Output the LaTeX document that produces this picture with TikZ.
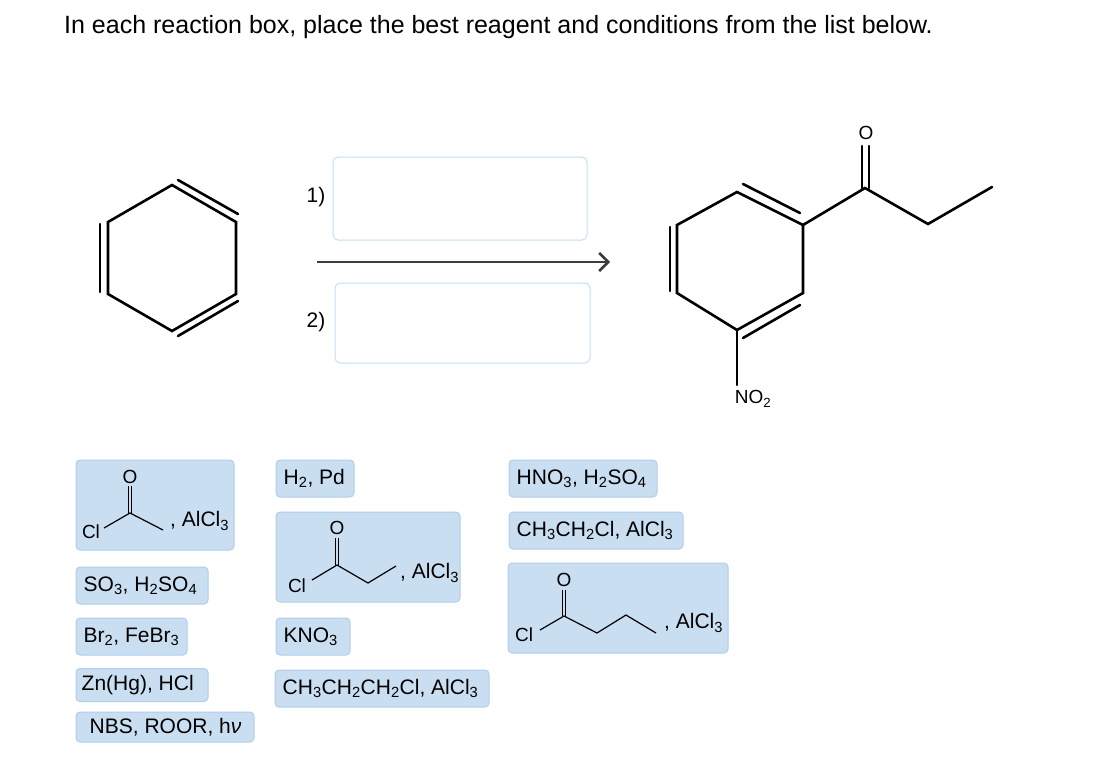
\documentclass[tikz,border=0pt]{standalone}
\usepackage{fontspec}
\setmainfont{Liberation Sans}
\usetikzlibrary{arrows.meta}
\begin{document}
\begin{tikzpicture}[x=1pt,y=-1pt,
  rg/.style={draw={rgb,255:red,176;green,205;blue,235}, fill={rgb,255:red,202;green,222;blue,242}, rounded corners=4pt, line width=1pt, inner sep=0pt},
  ans/.style={draw={rgb,255:red,198;green,222;blue,242}, fill=white, rounded corners=5pt, line width=1pt, inner sep=0pt},
  lab/.style={font=\fontsize{21}{24}\selectfont, inner sep=0pt},
  sm/.style={font=\fontsize{19}{22}\selectfont, inner sep=0pt},
  bt/.style={font=\fontsize{21}{24}\selectfont, inner sep=0pt, anchor=west},
  bb/.style={line width=2.6pt, line cap=round},
  sb/.style={line width=1.2pt}]
\useasboundingbox (0,0) rectangle (1098,766);
\node[anchor=west, font=\fontsize{25}{28}\selectfont, inner sep=0pt] (title) at (64,27) {In each reaction box, place the best reagent and conditions from the list below.};
% left benzene
\coordinate (a1) at (172,185); \coordinate (a2) at (236,222); \coordinate (a3) at (236,294);
\coordinate (a4) at (172,331); \coordinate (a5) at (108,294); \coordinate (a6) at (108,222);
\draw[bb] (a1)--(a2)--(a3)--(a4)--(a5)--(a6)--cycle;
\draw[bb] (100,224)--(100,292);
\draw[bb] (178,180)--(238,214);
\draw[bb] (178,336)--(238,301);
% reaction
\node[ans, minimum width=254, minimum height=83] (box1) at (460,198.5) {};
\node[ans, minimum width=255, minimum height=80] (box2) at (462.5,323) {};
\node[lab] (n1) at (316,197) {1)};
\node[lab] (n2) at (316,322) {2)};
\coordinate (ar1) at (317,262); \coordinate (ar2) at (610,262);
\draw[line width=2.5pt, draw={rgb,255:red,60;green,60;blue,60}, -{Straight Barb[length=9pt,width=18pt]}] (ar1)--(ar2);
% product
\coordinate (b1) at (737,192); \coordinate (b2) at (803,225); \coordinate (b3) at (803,293);
\coordinate (b4) at (737,330); \coordinate (b5) at (677,293); \coordinate (b6) at (677,225);
\draw[bb] (b1)--(b2)--(b3)--(b4)--(b5)--(b6)--cycle;
\draw[bb] (670,227)--(670,291);
\draw[bb] (743,184)--(800,213);
\draw[bb] (743,338)--(800,305);
\coordinate (c1) at (865,188); \coordinate (c2) at (928,224); \coordinate (c3) at (992,187);
\draw[bb] (b2)--(c1)--(c2)--(c3);
\draw[bb] (862,188)--(862,146); \draw[bb] (869,188)--(869,146);
\node[sm] (O) at (866,133) {O};
\node[sm] (no2) at (753,399) {NO\textsubscript{2}};
\draw[bb] (b4)--(737,385);
% reagent boxes
\node[rg, minimum width=158, minimum height=90] (rA) at (155,505) {};
\node[sm] (oA) at (130,477) {O};
\coordinate (mA) at (163,530); \coordinate (clA) at (104,528);
\draw[sb] (128.5,486)--(128.5,513); \draw[sb] (131.5,486)--(131.5,513);
\draw[sb] (clA)--(130,513)--(mA);
\node[sm] (clAt) at (91,532) {Cl};
\node[bt] (alA) at (170,521) {, AlCl\textsubscript{3}};

\node[rg, minimum width=78, minimum height=37] (h2) at (315,478.5) {};
\node[bt] at ([xshift=8pt]h2.west) {H\textsubscript{2}, Pd};
\node[rg, minimum width=148, minimum height=37] (hno3) at (583,478.5) {};
\node[bt] at ([xshift=8pt]hno3.west) {HNO\textsubscript{3}, H\textsubscript{2}SO\textsubscript{4}};

\node[rg, minimum width=184, minimum height=90] (rB) at (368,557) {};
\node[sm] (oB) at (337,528) {O};
\draw[sb] (335.5,538)--(335.5,565); \draw[sb] (338.5,538)--(338.5,565);
\coordinate (clB) at (312,580); \coordinate (cB2) at (368,583); \coordinate (cB3) at (396,566);
\draw[sb] (clB)--(337,565)--(cB2)--(cB3);
\node[sm] (clBt) at (297,586) {Cl};
\node[bt] (alB) at (400,573) {, AlCl\textsubscript{3}};

\node[rg, minimum width=174, minimum height=37] (etcl) at (596,530.5) {};
\node[bt] at ([xshift=8pt]etcl.west) {CH\textsubscript{3}CH\textsubscript{2}Cl, AlCl\textsubscript{3}};
\node[rg, minimum width=132, minimum height=37] (so3) at (142,585.5) {};
\node[bt] at ([xshift=8pt]so3.west) {SO\textsubscript{3}, H\textsubscript{2}SO\textsubscript{4}};

\node[rg, minimum width=220, minimum height=90] (rC) at (618,608) {};
\node[sm] (oC) at (564,580) {O};
\draw[sb] (562.5,590)--(562.5,616); \draw[sb] (565.5,590)--(565.5,616);
\coordinate (clC) at (540,630); \coordinate (cC2) at (597,633); \coordinate (cC3) at (626,615); \coordinate (cC4) at (656,633);
\draw[sb] (clC)--(564,616)--(cC2)--(cC3)--(cC4);
\node[sm] (clCt) at (524,635) {Cl};
\node[bt] (alC) at (664,623) {, AlCl\textsubscript{3}};

\node[rg, minimum width=111, minimum height=37] (br2) at (131.5,636.5) {};
\node[bt] at ([xshift=8pt]br2.west) {Br\textsubscript{2}, FeBr\textsubscript{3}};
\node[rg, minimum width=74, minimum height=37] (kno3) at (313,636.5) {};
\node[bt] at ([xshift=8pt]kno3.west) {KNO\textsubscript{3}};
\node[rg, minimum width=132, minimum height=33] (zn) at (142,685) {};
\node[bt] at ([xshift=6pt]zn.west) {Zn(Hg), HCl};
\node[rg, minimum width=214, minimum height=37] (prcl) at (382,688.5) {};
\node[bt] at ([xshift=8pt]prcl.west) {CH\textsubscript{3}CH\textsubscript{2}CH\textsubscript{2}Cl, AlCl\textsubscript{3}};
\node[rg, minimum width=178, minimum height=30] (nbs) at (165,727) {};
\node[bt] at ([xshift=14pt]nbs.west) {NBS, ROOR, h\textit{ν}};
\end{tikzpicture}
\end{document}
